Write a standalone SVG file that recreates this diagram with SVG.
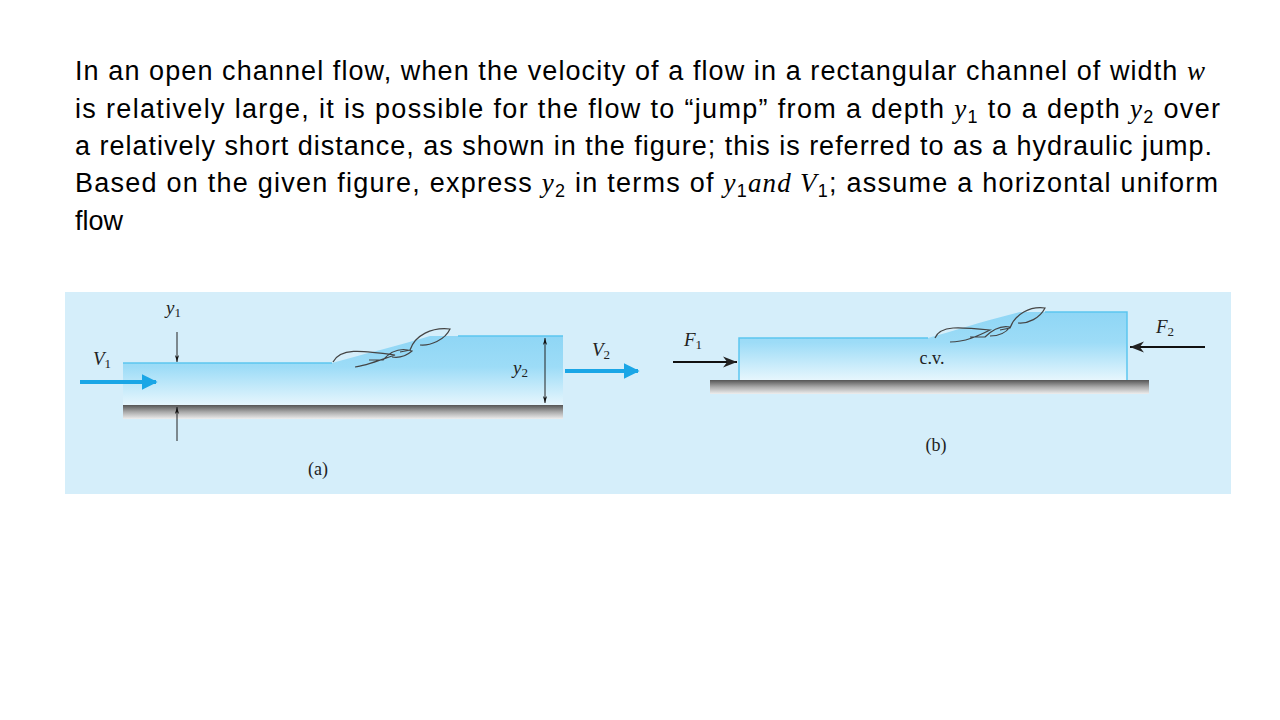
<svg xmlns="http://www.w3.org/2000/svg" width="1280" height="720" viewBox="0 0 1280 720">
<defs>
<linearGradient id="water" x1="0" y1="0" x2="0" y2="1"><stop offset="0" stop-color="#8fd6f5"/><stop offset="0.45" stop-color="#9ddcf7"/><stop offset="1" stop-color="#e6f6fd"/></linearGradient>
<linearGradient id="ground" x1="0" y1="0" x2="0" y2="1"><stop offset="0" stop-color="#555"/><stop offset="0.5" stop-color="#aaa"/><stop offset="1" stop-color="#eee"/></linearGradient>
<marker id="ab" viewBox="0 0 10 10" refX="10" refY="5" markerWidth="7" markerHeight="7" orient="auto-start-reverse"><path d="M0,1 L10,5 L0,9 L3,5 z" fill="#222"/></marker>
<marker id="ak" viewBox="0 0 10 10" refX="10" refY="5" markerWidth="7" markerHeight="7" orient="auto-start-reverse"><path d="M0,2 L10,5 L0,8 L3,5 z" fill="#111"/></marker>
<marker id="abl" viewBox="0 0 10 10" refX="9" refY="5" markerWidth="4" markerHeight="4" orient="auto"><path d="M0,0 L10,5 L0,10 z" fill="#1aa6e6"/></marker>
</defs>
<style>
.t{font-family:"Liberation Sans",sans-serif;font-size:27px;fill:#000}
.m{font-family:"Liberation Serif",serif;font-style:italic}
.l{font-family:"Liberation Serif",serif;font-size:18px;fill:#222}
.li{font-family:"Liberation Serif",serif;font-size:19px;font-style:italic;fill:#222}
.s{font-size:13px;font-style:normal}
.thin{stroke:#222;stroke-width:1;fill:none}
.curl{stroke:#444;stroke-width:1.2;fill:none}
</style>
<rect width="1280" height="720" fill="#fff"/>
<g id="question">
<text class="t" x="75" y="80" textLength="1130">In an open channel flow, when the velocity of a flow in a rectangular channel of width <tspan class="m">w</tspan></text>
<text class="t" x="75" y="118" textLength="1145">is relatively large, it is possible for the flow to “jump” from a depth <tspan class="m">y</tspan><tspan font-size="18" dy="5">1</tspan><tspan dy="-5"> to a depth </tspan><tspan class="m">y</tspan><tspan font-size="18" dy="5">2</tspan><tspan dy="-5"> over</tspan></text>
<text class="t" x="75" y="155" textLength="1137">a relatively short distance, as shown in the figure; this is referred to as a hydraulic jump.</text>
<text class="t" x="75" y="192" textLength="1143">Based on the given figure, express <tspan class="m">y</tspan><tspan font-size="18" dy="5">2</tspan><tspan dy="-5"> in terms of </tspan><tspan class="m">y</tspan><tspan font-size="18" dy="5">1</tspan><tspan class="m" dy="-5">and V</tspan><tspan font-size="18" dy="5">1</tspan><tspan dy="-5">; assume a horizontal uniform</tspan></text>
<text class="t" x="75" y="230">flow</text>
</g>
<rect id="panel" x="65" y="292" width="1166" height="202" fill="#d5eefa"/>
<g id="fig-a">
<path d="M123,363 L332,363 C360,355 400,345 430,336 L455,336 L563,336 L563,405 L123,405 Z" fill="url(#water)"/>
<path d="M123,363 L332,363 M458,336 L563,336" stroke="#5cc6ef" stroke-width="1.5" fill="none"/>
<rect x="123" y="405" width="440" height="14" fill="url(#ground)"/>
<path class="curl" d="M333,362 C340,348 360,350 395,355 C380,360 365,366 355,367 M369,360 L383,360 C390,352 400,347 412,351 C405,357 398,358 392,357 M400,352 L410,350 C415,335 432,327 450,329 C445,340 430,346 420,345"/>
<text class="li" x="93" y="365">V<tspan class="s" dy="3">1</tspan></text>
<text class="li" x="166" y="314">y<tspan class="s" dy="3">1</tspan></text>
<text class="li" x="513" y="374">y<tspan class="s" dy="3">2</tspan></text>
<text class="li" x="592" y="356">V<tspan class="s" dy="3">2</tspan></text>
<text class="l" x="318" y="475" text-anchor="middle">(a)</text>
</g>
<g id="fig-b">
<path d="M739,338 L928,338 C950,332 980,322 1020,312 L1045,312 L1127,312 L1127,380 L739,380 Z" fill="url(#water)"/>
<path d="M739,380 L739,338 L928,338 M1045,312 L1127,312 L1127,380" stroke="#5cc6ef" stroke-width="1.5" fill="none"/>
<rect x="710" y="380" width="439" height="14" fill="url(#ground)"/>
<path class="curl" d="M935,338 C940,325 960,327 990,330 C978,336 965,342 950,342 M970,337 L985,337 C992,330 1000,325 1010,327 C1005,334 998,336 990,336 M1000,330 L1010,328 C1015,314 1030,306 1045,308 C1040,318 1028,324 1018,323"/>
<text class="l" x="932" y="364" text-anchor="middle">c.v.</text>
<text class="li" x="684" y="346">F<tspan class="s" dy="3">1</tspan></text>
<text class="li" x="1156" y="333">F<tspan class="s" dy="3">2</tspan></text>
<text class="l" x="936" y="451" text-anchor="middle">(b)</text>
</g>
<g id="connectors">
<line x1="80" y1="382" x2="156" y2="382" stroke="#1aa6e6" stroke-width="4" marker-end="url(#abl)"/>
<line x1="565" y1="371" x2="638" y2="371" stroke="#1aa6e6" stroke-width="4" marker-end="url(#abl)"/>
<line class="thin" x1="177" y1="332" x2="177" y2="362" marker-end="url(#ak)"/>
<line class="thin" x1="177" y1="441" x2="177" y2="407" marker-end="url(#ak)"/>
<line class="thin" x1="545" y1="338" x2="545" y2="403" marker-start="url(#ak)" marker-end="url(#ak)"/>
<line x1="673" y1="362" x2="737" y2="362" stroke="#111" stroke-width="2" marker-end="url(#ab)"/>
<line x1="1205" y1="347" x2="1130" y2="347" stroke="#111" stroke-width="2" marker-end="url(#ab)"/>
</g>
</svg>
